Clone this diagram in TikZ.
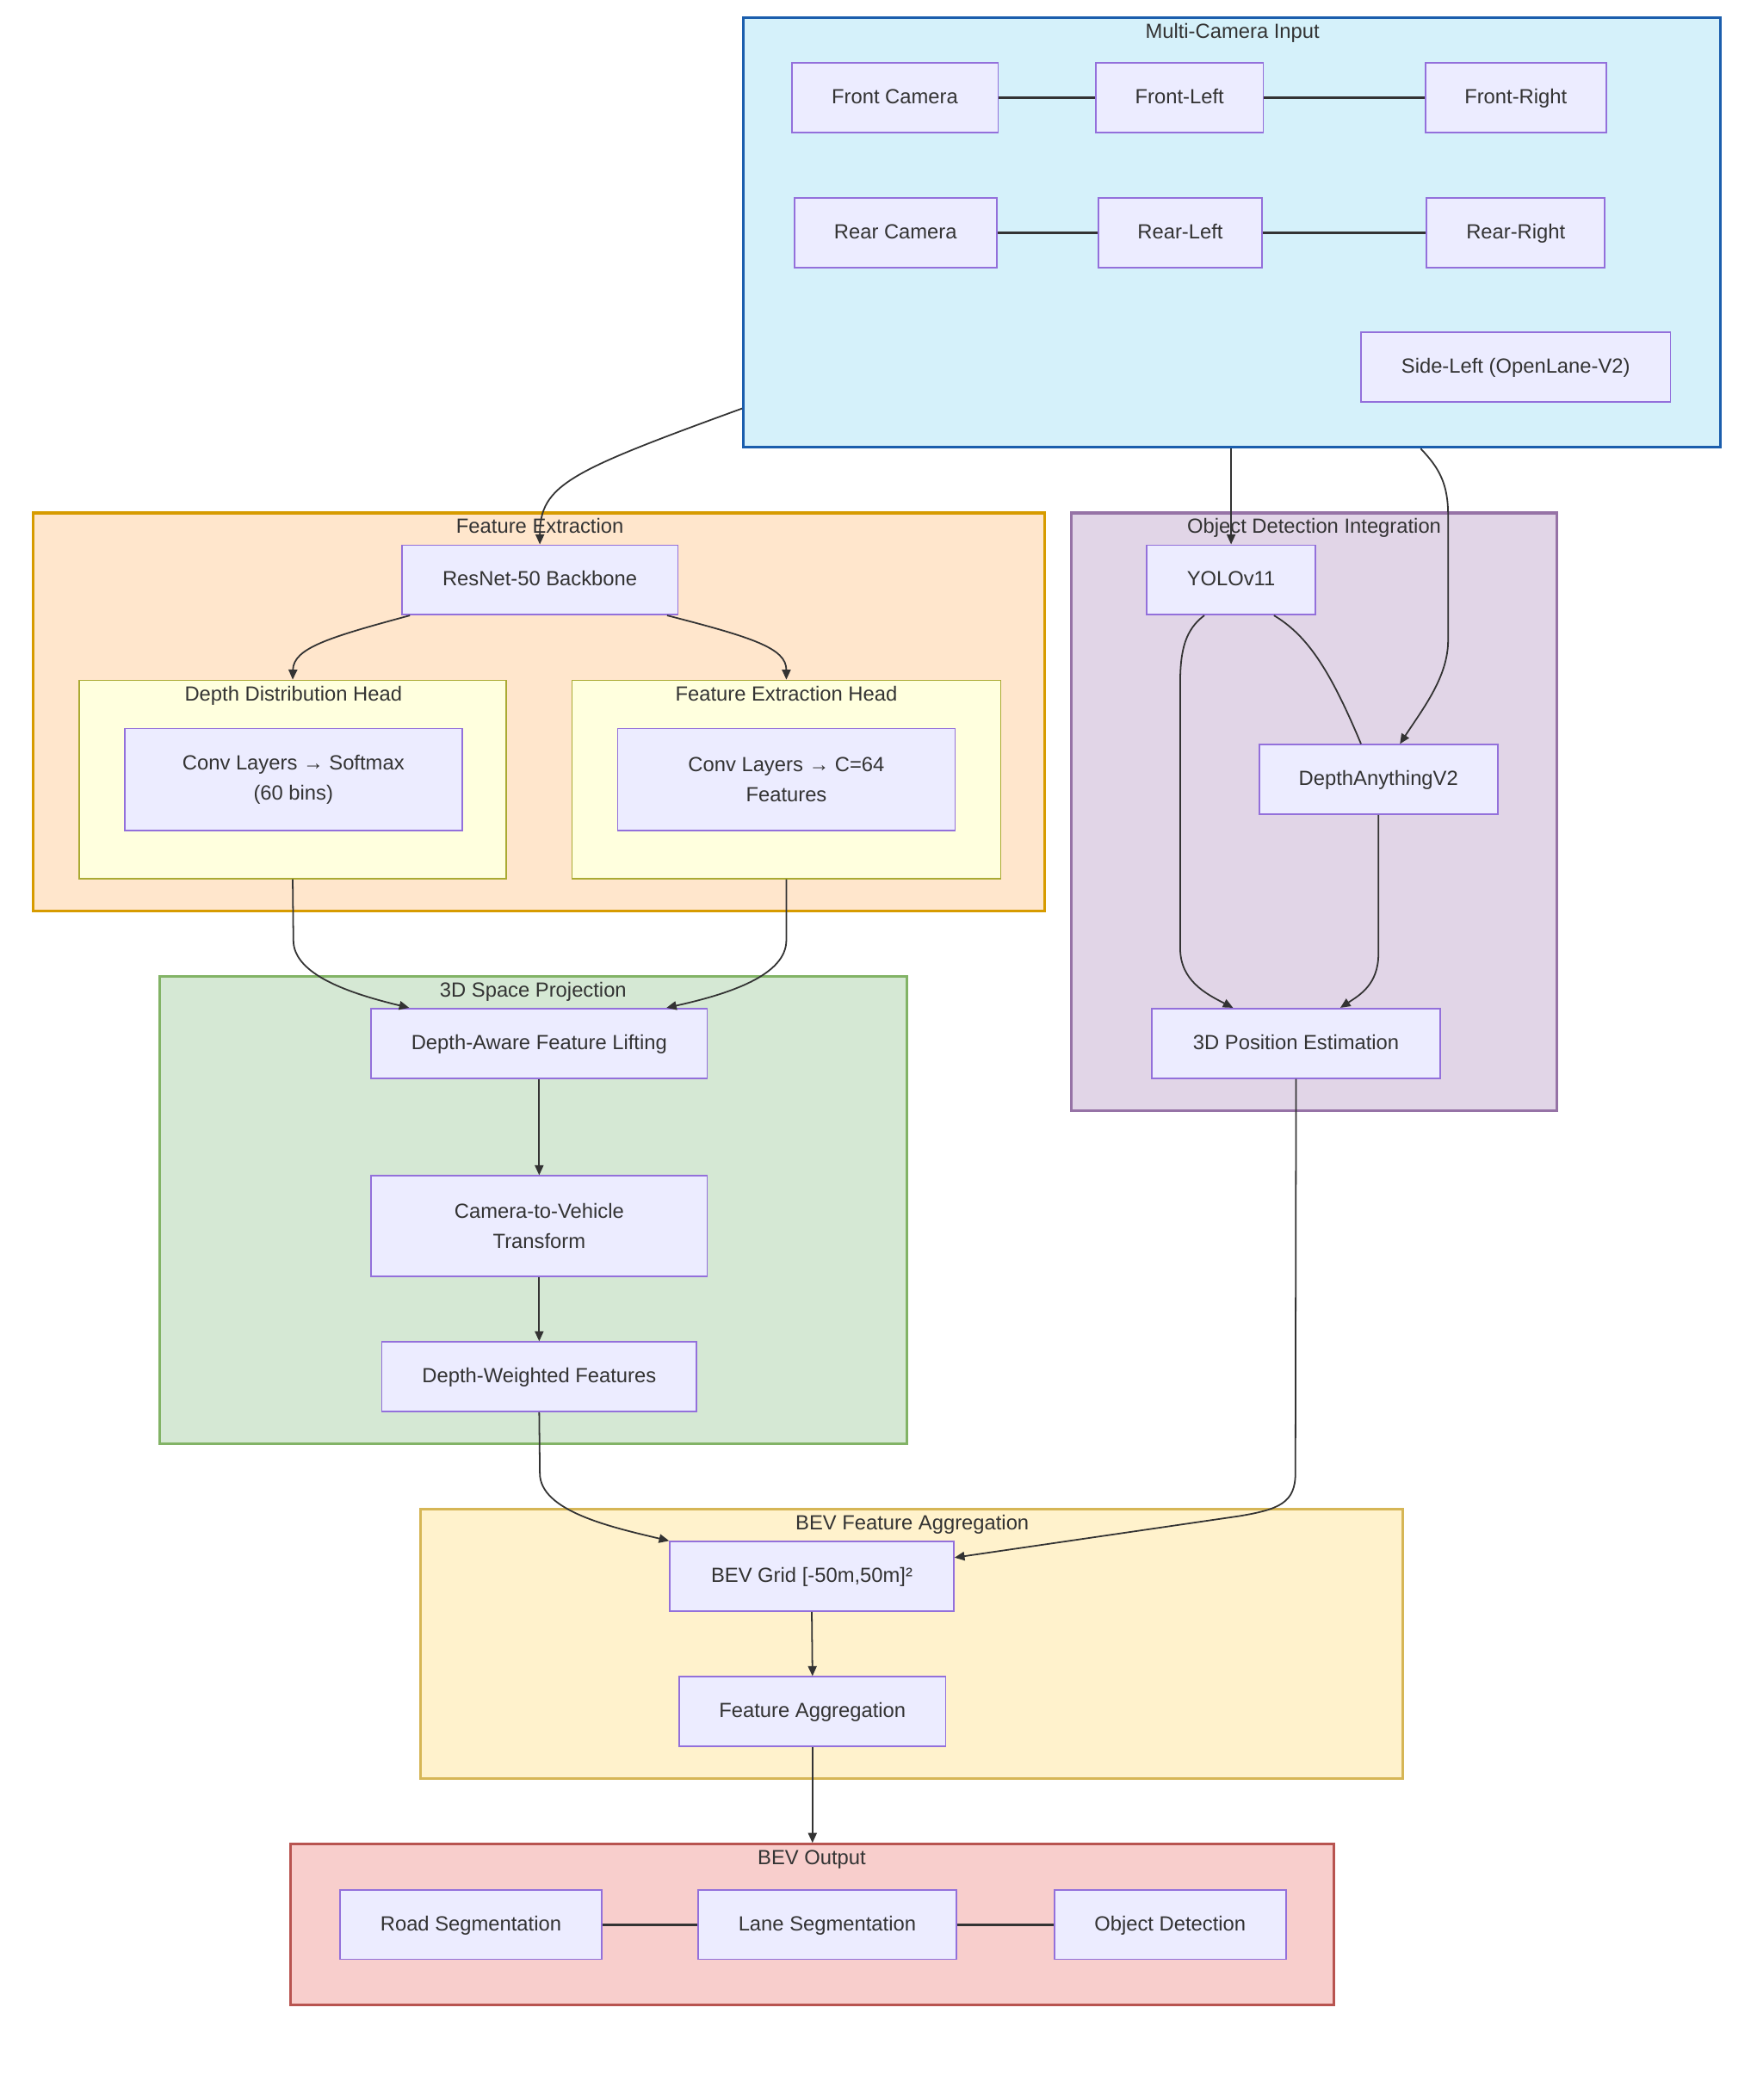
\documentclass[tikz,border=0pt]{standalone}
\usepackage{fontspec}
\setmainfont{Liberation Sans}
\usetikzlibrary{fit,arrows.meta,calc}
\definecolor{nodefill}{HTML}{ECECFF}
\definecolor{nodestroke}{HTML}{9370DB}
\definecolor{txt}{HTML}{333333}
\definecolor{edgec}{HTML}{333333}
\definecolor{mcfill}{HTML}{D5F1FA}
\definecolor{mcstroke}{HTML}{1B5EAD}
\definecolor{fefill}{HTML}{FFE6CC}
\definecolor{festroke}{HTML}{D79B00}
\definecolor{subfill}{HTML}{FFFFDE}
\definecolor{substroke}{HTML}{AAAA33}
\definecolor{odfill}{HTML}{E1D5E7}
\definecolor{odstroke}{HTML}{9673A6}
\definecolor{spfill}{HTML}{D5E8D4}
\definecolor{spstroke}{HTML}{82B366}
\definecolor{bafill}{HTML}{FFF2CC}
\definecolor{bastroke}{HTML}{D6B656}
\definecolor{bofill}{HTML}{F8CECC}
\definecolor{bostroke}{HTML}{B85450}
\begin{document}
\begin{tikzpicture}[x=0.02cm,y=-0.02cm,
  font=\fontsize{8.7pt}{13pt}\selectfont, text=txt,
  box/.style={draw=nodestroke, fill=nodefill, line width=0.6pt, inner sep=0pt},
  lbl/.style={inner sep=0pt, text=txt, text height=0.72em, text depth=0.22em},
  lbltwo/.style={inner sep=0pt, align=center, text=txt},
  clus/.style={line width=1.1pt, inner sep=0pt},
  subclus/.style={draw=substroke, fill=subfill, line width=0.6pt, inner sep=0pt},
  ttl/.style={inner sep=0pt, text=txt, text height=0.72em, text depth=0.22em},
  edge/.style={draw=edgec, line width=0.65pt},
  link/.style={draw=edgec, line width=1pt},
  arr/.style={edge, -{Triangle[length=0.15cm,width=0.13cm]}},
]
\useasboundingbox[fill=white] (0,0) rectangle (1311,1568);

% clusters
\node[clus, draw=mcstroke, fill=mcfill, fit={(555,13)(1284,334)}] (mc) {};
\node[ttl] (mcT) at (920,24) {Multi-Camera Input};

\node[clus, draw=festroke, fill=fefill, fit={(25,383)(780,680)}] (fe) {};
\node[ttl] (feT) at (403,394) {Feature Extraction};
\node[subclus, fit={(59,508)(378,656)}] (ddh) {};
\node[ttl] (ddhT) at (219,519) {Depth Distribution Head};
\node[subclus, fit={(427,508)(747,656)}] (feh) {};
\node[ttl] (fehT) at (587,519) {Feature Extraction Head};

\node[clus, draw=odstroke, fill=odfill, fit={(800,383)(1162,829)}] (od) {};
\node[ttl] (odT) at (981,394) {Object Detection Integration};

\node[clus, draw=spstroke, fill=spfill, fit={(119,729)(677,1078)}] (sp) {};
\node[ttl] (spT) at (398,740) {3D Space Projection};

\node[clus, draw=bastroke, fill=bafill, fit={(314,1127)(1047,1328)}] (ba) {};
\node[ttl] (baT) at (681,1138) {BEV Feature Aggregation};

\node[clus, draw=bostroke, fill=bofill, fit={(217,1377)(996,1497)}] (out) {};
\node[ttl] (outT) at (606,1388) {BEV Output};

% nodes
\node[box, fit={(591,47)(745,99)}, label={[lbl]center:Front Camera}] (fc) {};
\node[box, fit={(818,47)(943,99)}, label={[lbl]center:Front-Left}] (fl) {};
\node[box, fit={(1064,47)(1199,99)}, label={[lbl]center:Front-Right}] (fr) {};
\node[box, fit={(593,148)(744,200)}, label={[lbl]center:Rear Camera}] (rc) {};
\node[box, fit={(820,148)(942,200)}, label={[lbl]center:Rear-Left}] (rl) {};
\node[box, fit={(1065,148)(1198,200)}, label={[lbl]center:Rear-Right}] (rr) {};
\node[box, fit={(1016,248)(1247,300)}, label={[lbl]center:Side-Left (OpenLane-V2)}] (sl) {};

\node[box, fit={(300,407)(506,459)}, label={[lbl]center:ResNet-50 Backbone}] (resnet) {};
\node[box, fit={(93,544)(345,620)}, label={[lbltwo]center:{Conv Layers → Softmax\\(60 bins)}}] (conv1) {};
\node[box, fit={(461,544)(713,620)}, label={[lbltwo]center:{Conv Layers → C=64\\Features}}] (conv2) {};

\node[box, fit={(856,407)(982,459)}, label={[lbl]center:YOLOv11}] (yolo) {};
\node[box, fit={(940,556)(1118,608)}, label={[lbl]center:DepthAnythingV2}] (dav) {};
\node[box, fit={(860,753)(1075,805)}, label={[lbl]center:3D Position Estimation}] (pos) {};

\node[box, fit={(277,753)(528,805)}, label={[lbl]center:Depth-Aware Feature Lifting}] (lift) {};
\node[box, fit={(277,878)(528,953)}, label={[lbltwo]center:{Camera-to-Vehicle\\Transform}}] (trans) {};
\node[box, fit={(285,1002)(520,1054)}, label={[lbl]center:Depth-Weighted Features}] (wtd) {};

\node[box, fit={(500,1151)(712,1203)}, label={[lbl]center:{BEV Grid [-50m,50m]²}}] (grid) {};
\node[box, fit={(507,1252)(706,1304)}, label={[lbl]center:Feature Aggregation}] (agg) {};

\node[box, fit={(254,1411)(449,1463)}, label={[lbl]center:Road Segmentation}] (road) {};
\node[box, fit={(521,1411)(714,1463)}, label={[lbl]center:Lane Segmentation}] (lane) {};
\node[box, fit={(787,1411)(960,1463)}, label={[lbl]center:Object Detection}] (obj) {};

% undirected links
\draw[link] (fc) -- (fl);
\draw[link] (fl) -- (fr);
\draw[link] (rc) -- (rl);
\draw[link] (rl) -- (rr);
\draw[link] (road) -- (lane);
\draw[link] (lane) -- (obj);

% arrows
\draw[arr] ($(mc.south west)+(0,-30)$) .. controls (425,352) and (403,362) .. (resnet.north);
\draw[arr] (yolo.north |- mc.south) -- (yolo.north);
\draw[arr] ($(mc.south)+(141,0)$) .. controls (1075,350) and (1081,362) .. (1081,385) -- (1081,478) .. controls (1081,505) and (1063,528) .. ($(dav.north)+(16,0)$);
\draw[edge] ($(yolo.south)+(32,0)$) .. controls (975,474) and (992,498) .. ($(dav.north)+(-13,0)$);
\draw[arr] ($(yolo.south)+(-20,0)$) .. controls (885,470) and (881,485) .. (881,510) -- (881,708) .. controls (881,732) and (900,742) .. ($(pos.north)+(-47,0)$);
\draw[arr] (dav.south) -- (1029,712) .. controls (1029,735) and (1015,743) .. ($(pos.north)+(33,0)$);

\draw[arr] ($(resnet.south)+(-97,0)$) .. controls (245,476) and (219,484) .. (ddh.north);
\draw[arr] ($(resnet.south)+(95,0)$) .. controls (562,476) and (587,484) .. (feh.north);

\draw[arr] (ddh.south) -- (219,702) .. controls (219,728) and (262,742) .. ($(lift.north)+(-97,0)$);
\draw[arr] (feh.south) -- (587,702) .. controls (587,728) and (545,742) .. ($(lift.north)+(95,0)$);
\draw[arr] (lift.south) -- (trans.north);
\draw[arr] (trans.south) -- (wtd.north);

\draw[arr] (wtd.south) -- (403,1100) .. controls (403,1128) and (455,1140) .. (grid.north west);
\draw[arr] (pos.south) -- (967,1100) .. controls (967,1122) and (955,1127) .. (925,1132) -- ($(grid.east)+(0,-14)$);
\draw[arr] (grid.south) -- (agg.north);
\draw[arr] (agg.south) -- (agg.south |- out.north);
\end{tikzpicture}
\end{document}
